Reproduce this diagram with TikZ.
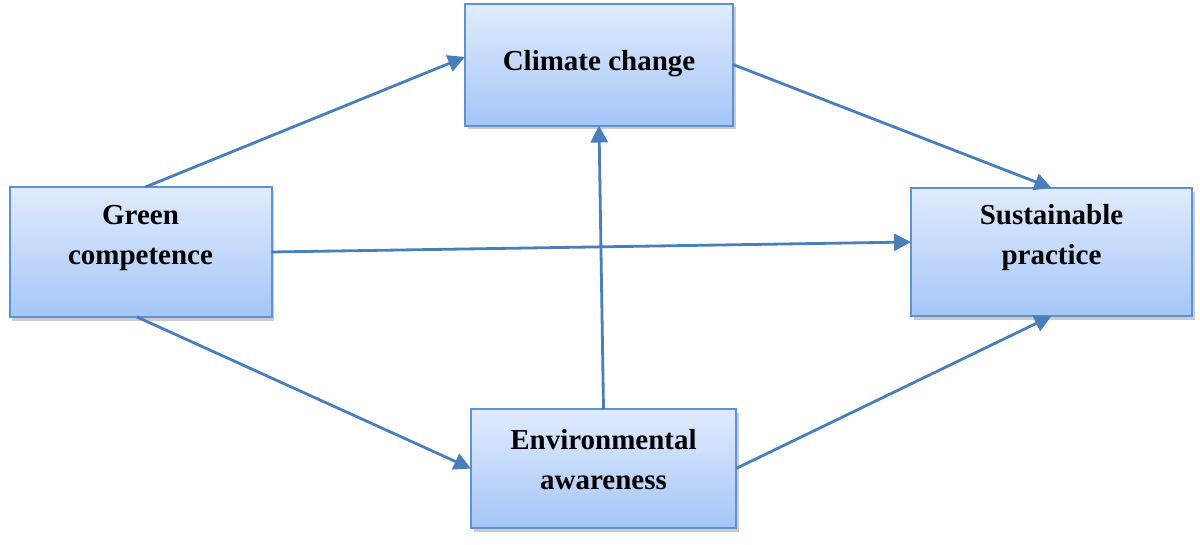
\documentclass[tikz,border=0pt]{standalone}
\usepackage{fontspec}
\setmainfont{Liberation Serif}
\usetikzlibrary{arrows.meta,shadows}
\definecolor{arrowblue}{RGB}{74,126,187}
\definecolor{boxborder}{RGB}{96,145,210}
\definecolor{boxtop}{RGB}{224,235,253}
\definecolor{boxbot}{RGB}{165,198,247}
\tikzset{
  box/.style={draw=boxborder, line width=2pt, top color=boxtop, bottom color=boxbot,
    inner sep=0pt, outer sep=0pt,
    drop shadow={shadow xshift=2.5pt, shadow yshift=-3.5pt, fill=black!45, opacity=0.45}},
  lbl/.style={align=center, font=\fontsize{29}{40}\selectfont\bfseries, inner sep=0pt},
  conn/.style={draw=arrowblue, line width=2.8pt, -{Triangle[length=17pt,width=17pt]}}
}
\begin{document}
\begin{tikzpicture}[x=1pt,y=-1pt]
\useasboundingbox (0,0) rectangle (1200,544);
\node[box, minimum width=268pt, minimum height=122pt] (cc) at (599,64.5) {};
\node[box, minimum width=262pt, minimum height=130pt] (gc) at (140.5,252) {};
\node[box, minimum width=281pt, minimum height=128pt] (sp) at (1051.5,252) {};
\node[box, minimum width=265pt, minimum height=119pt] (env) at (603.5,468.5) {};
\node[lbl] (cct) at (599,64) {Climate change};
\node[lbl] (gct) at (140.5,238) {Green\\competence};
\node[lbl] (spt) at (1051.5,238) {Sustainable\\practice};
\node[lbl] (envt) at (603.5,460) {Environmental\\awareness};
\draw[conn] ([xshift=5pt]gc.north) -- ([yshift=7.5pt]cc.west);
\draw[conn] (gc.east) -- ([yshift=10pt]sp.west);
\draw[conn] ([xshift=-3.5pt]gc.south) -- (env.west);
\draw[conn] (env.north) -- (cc.south);
\draw[conn] (cc.east) -- (sp.north);
\draw[conn] (env.east) -- (sp.south);
\end{tikzpicture}
\end{document}
